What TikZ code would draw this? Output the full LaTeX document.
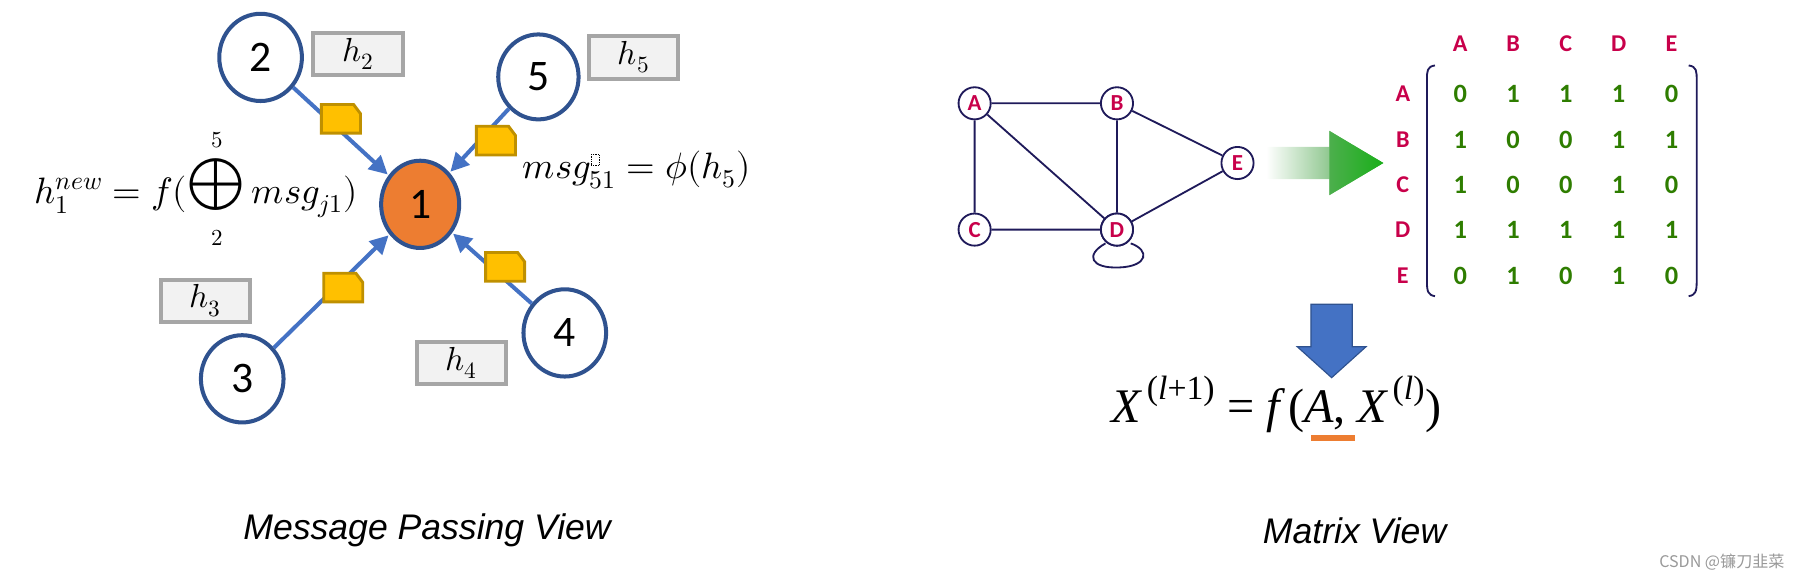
\documentclass[tikz,border=0pt]{standalone}
\usepackage{fontspec}
\usepackage{amsmath}
\usepackage{unicode-math}
\setmainfont{Carlito}
\setmathfont{Latin Modern Math}
\newfontfamily\arialf{Liberation Sans}
\newfontfamily\timesf{Liberation Serif}
\newfontfamily\cjkf{Noto Sans CJK SC}
\usetikzlibrary{arrows.meta,shapes.geometric}
\definecolor{nodeblue}{HTML}{2F528F}
\definecolor{arrblue}{HTML}{4472C4}
\definecolor{orangef}{HTML}{ED7D31}
\definecolor{boxgray}{HTML}{A6A6A6}
\definecolor{boxfill}{HTML}{F2F2F2}
\definecolor{msgf}{HTML}{FFC000}
\definecolor{msgd}{HTML}{BF9000}
\definecolor{gnavy}{HTML}{1F1A5A}
\definecolor{gred}{HTML}{C8004A}
\definecolor{mgreen}{HTML}{2E7D00}
\newcommand{\ti}[1]{\text{\timesf\itshape #1}}
\newcommand{\tu}[1]{\text{\timesf #1}}
\begin{document}
\begin{tikzpicture}[x=1pt,y=-1pt,
  gnode/.style={ellipse,draw=nodeblue,line width=3.5pt,fill=white,minimum width=72pt,minimum height=76pt,inner sep=0pt,font=\fontsize{38}{40}\selectfont},
  hbox/.style={draw=boxgray,line width=3.5pt,fill=boxfill,minimum width=78pt,minimum height=37pt,inner sep=0pt,font=\fontsize{29}{30}\selectfont},
  msgarr/.style={draw=arrblue,line width=3.5pt,-{Triangle[length=16pt,width=16pt]},shorten >=1pt},
  gv/.style={circle,draw=gnavy,line width=1.6pt,fill=white,minimum size=28pt,inner sep=0pt,text=gred,font=\bfseries\fontsize{20}{22}\selectfont},
  gedge/.style={draw=gnavy,line width=1.6pt},
  hd/.style={text=gred,font=\bfseries\fontsize{21}{22}\selectfont},
  ent/.style={text=mgreen,font=\bfseries\fontsize{23}{24}\selectfont},
  ttl/.style={font=\arialf\itshape\fontsize{31}{34}\selectfont},
  lim/.style={font=\fontsize{20}{22}\selectfont,inner sep=0pt}
]
\useasboundingbox (0,0) rectangle (1568,505);
% message passing
\node[gnode,fill=orangef,minimum width=68pt] (n1) at (366,178) {1};
\node[gnode] (n2) at (227,50) {2};
\node[gnode,minimum width=70pt,minimum height=74pt] (n5) at (469,67) {5};
\node[gnode] (n3) at (211,330) {3};
\node[gnode] (n4) at (492,290) {4};
\foreach \s in {n2,n3,n4,n5} \draw[msgarr] (\s) -- (n1);
\node[hbox] (b2) at (312,47) {$h_2$};
\node[hbox] (b5) at (552,50) {$h_5$};
\node[hbox] (b3) at (179,262) {$h_3$};
\node[hbox] (b4) at (402,316) {$h_4$};
\foreach \p in {(297,103),(432,122),(299,250),(440,232)}{
  \draw[fill=msgf,draw=msgd,line width=2.5pt] \p ++(-17,-12) -- ++(28,0) -- ++(6,8) -- ++(0,17) -- ++(-34,0) -- cycle;
}
\node[font=\fontsize{32}{34}\selectfont,anchor=base west,inner sep=0pt] (fl) at (30,177) {$h_1^{new}=f(\smash{\text{\fontsize{66}{66}\selectfont$\oplus$}}\,msg_{j1})$};
\node[lim] (up) at (189,122) {$5$};
\node[lim] (lo) at (189,207) {$2$};
\node[font=\fontsize{32}{34}\selectfont,anchor=west] (fr) at (452,148) {$msg_{51}^{\tikz\draw[densely dotted,line width=0.5pt] (0,0) rectangle (7pt,9pt);}=\phi(h_5)$};
\node[ttl] (t1) at (372,462) {Message Passing View};
% graph
\node[gv] (A) at (849,90) {A};
\node[gv] (B) at (973,90) {B};
\node[gv] (C) at (849,200) {C};
\node[gv] (D) at (973,200) {D};
\node[gv] (E) at (1078,142) {E};
\draw[gedge] (A)--(B) (A)--(C) (A)--(D) (B)--(D) (B)--(E) (C)--(D) (D)--(E);
\draw[gedge] (963,212) .. controls (945,222) and (950,234) .. (975,233) .. controls (1000,232) and (1002,218) .. (985,212);
\node[gv] at (973,200) {D};
% green arrow
\shade[left color=white,right color=green!60!black!90,middle color=green!50!black!40] (1103,128) -- (1158,128) -- (1158,114) -- (1205,142) -- (1158,170) -- (1158,156) -- (1103,156) -- cycle;
\shade[left color=green!55!black!70,right color=green!65!black!90] (1158,114) -- (1205,142) -- (1158,170) -- cycle;
% matrix
\foreach \l [count=\i] in {A,B,C,D,E}{
  \pgfmathsetmacro\cx{1272+46*(\i-1)}
  \pgfmathsetmacro\ry{82+39.5*(\i-1)}
  \node[hd] (c\l) at (\cx,38) {\l};
  \node[hd] (r\l) at (1222,\ry) {\l};
}
\foreach \row [count=\j] in {{0,1,1,1,0},{1,0,0,1,1},{1,0,0,1,0},{1,1,1,1,1},{0,1,0,1,0}}{
  \foreach \v [count=\i] in \row {
    \node[ent] at ({1272+46*(\i-1)},{82+39.5*(\j-1)}) {\v};
  }
}
\draw[gnavy,line width=1.6pt] (1250,57) .. controls (1243,58) and (1243,62) .. (1243,70) -- (1243,245) .. controls (1243,254) and (1244,257) .. (1250,258);
\draw[gnavy,line width=1.6pt] (1471,57) .. controls (1478,58) and (1478,62) .. (1478,70) -- (1478,245) .. controls (1478,254) and (1477,257) .. (1471,258);
% blue down arrow
\draw[fill=arrblue,draw=nodeblue,line width=1pt] (1142,265) -- (1178,265) -- (1178,302) -- (1190,302) -- (1160,329) -- (1130,302) -- (1142,302) -- cycle;
\node[font=\fontsize{42}{44}\selectfont] (fm) at (1112,352) {$\ti{X}^{\,\tu{(}\ti{l}\tu{+1)}}\tu{ = }\ti{f}\,\tu{(}\ti{A}\tu{, }\ti{X}^{\,\tu{(}\ti{l}\tu{)}}\tu{)}$};
\fill[orangef] (1142,379) rectangle (1180,384);
\node[ttl] (t2) at (1180,462) {Matrix View};
\node[font=\cjkf\fontsize{14}{16}\selectfont,text=gray!80,anchor=east] (wm) at (1558,490) {CSDN @镰刀韭菜};
\end{tikzpicture}
\end{document}
